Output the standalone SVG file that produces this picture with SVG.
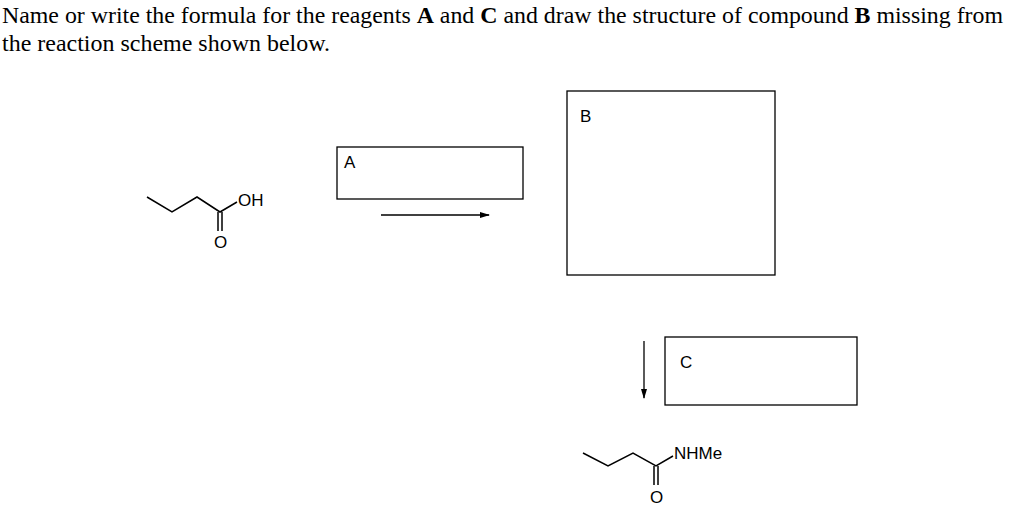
<svg xmlns="http://www.w3.org/2000/svg" width="1024" height="522" viewBox="0 0 1024 522">
<style>
.t{font-family:"Liberation Serif",serif;font-size:23px;fill:#000}
.s{font-family:"Liberation Sans",Arial,sans-serif;font-size:17px;fill:#000}
.b{fill:none;stroke:#000;stroke-width:1.3}
.l{fill:none;stroke:#000;stroke-width:1.5}
</style>
<defs><marker id="ah" markerWidth="10" markerHeight="6" refX="9" refY="3" orient="auto" markerUnits="userSpaceOnUse"><path d="M0,0 L10,3 L0,6 Z" fill="#000"/></marker></defs>
<rect width="1024" height="522" fill="#fff"/>
<text class="t" x="2" y="23" textLength="1001" lengthAdjust="spacingAndGlyphs">Name or write the formula for the reagents <tspan font-weight="bold">A</tspan> and <tspan font-weight="bold">C</tspan> and draw the structure of compound <tspan font-weight="bold">B</tspan> missing from</text>
<text class="t" x="2" y="51" textLength="328" lengthAdjust="spacingAndGlyphs">the reaction scheme shown below.</text>
<g id="acid">
<path class="l" d="M147,197 L172,212 L197,197 L220,212 L237,202"/>
<path class="l" d="M218,212 V231 M222,212 V231"/>
<text class="s" x="238" y="206">OH</text>
<text class="s" x="214" y="248">O</text>
</g>
<g id="boxA"><rect class="b" x="337" y="147" width="186" height="52"/><text class="s" x="344" y="168">A</text></g>
<g id="boxB"><rect class="b" x="567" y="91" width="208" height="184"/><text class="s" x="580" y="122">B</text></g>
<g id="boxC"><rect class="b" x="665" y="337" width="192" height="68"/><text class="s" x="680" y="368">C</text></g>
<g id="amide">
<path class="l" d="M583,453 L608,466 L633,453 L656,466 L673,456"/>
<path class="l" d="M654,466 V485 M658,466 V485"/>
<text class="s" x="674" y="459">NHMe</text>
<text class="s" x="650" y="503">O</text>
</g>
<g id="connectors">
<line class="b" x1="381" y1="215" x2="489" y2="215" marker-end="url(#ah)"/>
<line class="b" x1="644" y1="341" x2="644" y2="398" marker-end="url(#ah)"/>
</g>
</svg>
